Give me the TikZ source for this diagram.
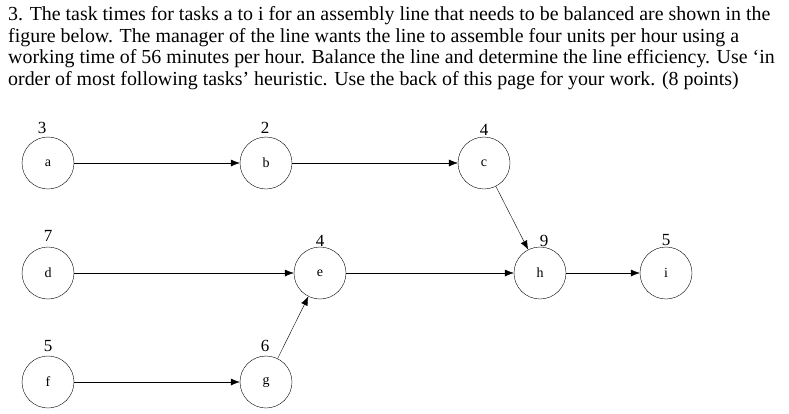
\documentclass[tikz,border=0pt]{standalone}
\usepackage{fontspec}
\setmainfont{Liberation Serif}
\usetikzlibrary{arrows.meta}
\begin{document}
\begin{tikzpicture}[x=1pt,y=-1pt]
		\tikzset{task/.style={circle, draw, minimum size=52pt, inner sep=0pt,
				font=\fontsize{14}{16}\selectfont},
			time/.style={font=\fontsize{17}{19}\selectfont},
			link/.style={-{Latex[length=9pt,width=7pt]}, thin}}
		\useasboundingbox (0,0) rectangle (789,413);
		
		% Question text
		\node[anchor=north west, inner sep=0pt, align=left,
			font=\fontsize{19.9}{21.8}\selectfont] (q) at (8,6)
			{3. The task times for tasks a to i for an assembly line that needs to be balanced are shown in the\\
			figure below. The manager of the line wants the line to assemble four units per hour using a\\
			working time of 56 minutes per hour. Balance the line and determine the line efficiency. Use `in\\
			order of most following tasks' heuristic. Use the back of this page for your work. (8 points)};
		
		% Draw the tasks
		\node[task] at (48,163)  (a) {a};
		\node[task] at (266,163) (b) {b};
		\node[task] at (484,163) (c) {c};
		\node[task] at (48,273)  (d) {d};
		\node[task] at (320,273) (e) {e};
		\node[task] at (540,273) (h) {h};
		\node[task] at (666,273) (i) {i};
		\node[task] at (48,382)  (f) {f};
		\node[task] at (266,382) (g) {g};
		
		% Task times
		\node[time] at (42,128)  (ta) {3};
		\node[time] at (265,128) (tb) {2};
		\node[time] at (484,130) (tc) {4};
		\node[time] at (48,236)  (td) {7};
		\node[time] at (320,241) (te) {4};
		\node[time] at (544,241) (th) {9};
		\node[time] at (666,240) (ti) {5};
		\node[time] at (48,346)  (tf) {5};
		\node[time] at (265,346) (tg) {6};
		
		% Connect the tasks
		\draw[link] (a) -- (b);
		\draw[link] (b) -- (c);
		\draw[link] (c) -- (h);
		\draw[link] (d) -- (e);
		\draw[link] (e) -- (h);
		\draw[link] (h) -- (i);
		\draw[link] (f) -- (g);
		\draw[link] (g) -- (e);
\end{tikzpicture}
\end{document}
